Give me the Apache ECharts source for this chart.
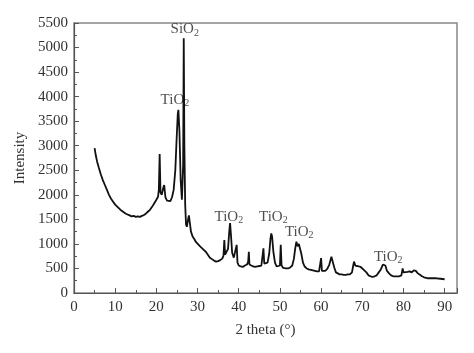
<!DOCTYPE html>
<html>
<head>
<meta charset="utf-8">
<script src="https://cdn.jsdelivr.net/npm/echarts@6/dist/echarts.min.js"></script>
<style>
  html, body { margin: 0; padding: 0; background: #fff; }
  #xrd_chart { width: 474px; height: 353px; }
</style>
</head>
<body>
<div id="xrd_chart"></div>
<script>
// 2 theta positions (deg) and intensities
var theta = [
  5.0, 5.3, 5.6, 6.0, 6.5, 7.0, 7.5, 8.0, 8.5, 9.0, 9.5, 10.0, 10.5, 11.0, 11.5,
  12.0, 12.5, 13.0, 13.5, 14.0, 14.5, 15.0, 15.5, 16.0, 16.5, 17.0, 17.5, 18.0,
  18.5, 19.0, 19.5, 20.0, 20.4, 20.6, 20.8, 21.0, 21.3, 21.7, 21.9, 22.2, 22.6,
  23.0, 23.4, 23.8, 24.2, 24.6, 24.9, 25.2, 25.35, 25.6, 25.9, 26.2, 26.5, 26.65,
  26.8, 27.0, 27.2, 27.4, 27.7, 27.9, 28.1, 28.4, 28.8, 29.2, 29.6, 30.0, 30.5,
  31.0, 31.5, 32.0, 32.5, 33.0, 33.5, 34.0, 34.5, 35.0, 35.5, 36.0, 36.3, 36.5,
  36.7, 37.0, 37.4, 37.7, 37.9, 38.1, 38.4, 38.8, 39.2, 39.5, 39.7, 40.0, 40.5,
  41.0, 41.5, 42.0, 42.3, 42.45, 42.6, 43.0, 43.5, 44.0, 44.5, 45.0, 45.5, 45.8,
  46.0, 46.2, 46.6, 47.0, 47.4, 47.7, 47.9, 48.1, 48.4, 48.8, 49.2, 49.6, 50.0,
  50.2, 50.4, 50.8, 51.5, 52.0, 52.5, 53.0, 53.4, 53.7, 54.0, 54.3, 54.6, 54.9,
  55.2, 55.6, 56.0, 56.5, 57.0, 57.5, 58.0, 58.5, 59.0, 59.5, 59.8, 60.0, 60.2,
  60.6, 61.0, 61.5, 62.0, 62.5, 62.8, 63.2, 63.6, 64.0, 64.5, 65.0, 65.5, 66.0,
  66.5, 67.0, 67.5, 67.8, 68.0, 68.3, 68.8, 69.2, 69.6, 70.0, 70.5, 71.0, 71.5,
  72.0, 72.5, 73.0, 73.5, 74.0, 74.5, 75.0, 75.3, 75.6, 76.0, 76.5, 77.0, 77.5,
  78.0, 78.5, 79.0, 79.5, 79.8, 80.0, 80.4, 81.0, 81.5, 82.0, 82.5, 83.0, 83.5,
  84.0, 84.5, 85.0, 85.5, 86.0, 87.0, 88.0, 89.0, 90.0
];
var intensity = [
  2950, 2800, 2680, 2560, 2420, 2300, 2200, 2100, 2000, 1920, 1860, 1800, 1760, 1720, 1680,
  1650, 1620, 1600, 1580, 1560, 1570, 1550, 1560, 1550, 1570, 1590, 1620, 1660,
  1700, 1760, 1830, 1900, 1960, 2100, 2830, 2050, 2000, 2150, 2200, 1950, 1880,
  1850, 1870, 1950, 2100, 2500, 3100, 3650, 3730, 3300, 2300, 1900, 2600, 5190,
  3000, 1800, 1400, 1350, 1500, 1580, 1450, 1250, 1150, 1100, 1040, 1000, 960,
  920, 880, 840, 780, 720, 690, 660, 640, 650, 670, 700, 760, 1080,
  780, 760, 900, 1250, 1425, 1200, 820, 720, 680, 980, 620, 560, 540,
  530, 560, 580, 640, 840, 580, 560, 540, 530, 540, 550, 560, 600,
  910, 600, 580, 620, 800, 1100, 1215, 1150, 850, 620, 540, 520, 560,
  980, 560, 510, 500, 500, 520, 560, 700, 900, 1045, 950, 1000, 980,
  800, 620, 540, 500, 480, 470, 460, 450, 440, 440, 460, 710, 450,
  440, 450, 490, 580, 740, 700, 520, 420, 400, 380, 380, 370, 370,
  380, 380, 420, 560, 640, 560, 550, 520, 530, 500, 460, 420, 360,
  340, 330, 340, 360, 420, 480, 580, 600, 560, 450, 400, 360, 340,
  340, 340, 340, 360, 500, 420, 380, 430, 440, 420, 460, 450, 400,
  370, 340, 320, 310, 300, 300, 300, 290, 280
];

// peak annotations
var peakNames = ["SiO", "TiO", "TiO", "TiO", "TiO", "TiO"];
var peakX = [26.9, 24.5, 37.6, 48.4, 54.7, 76.3];
var peakY = [5370, 3930, 1555, 1555, 1250, 735];

var chart = echarts.init(document.getElementById("xrd_chart"));
var serif = "Liberation Serif";

var curve = [];
for (var i = 0; i < theta.length; i++) {
  curve.push([theta[i], intensity[i]]);
}
var peaks = [];
for (var j = 0; j < peakX.length; j++) {
  peaks.push({ value: [peakX[j], peakY[j]], name: peakNames[j] });
}

var option = {
  animation: false,
  backgroundColor: "#fff",
  grid: {
    left: 74,
    right: 17,
    top: 23,
    bottom: 60,
    show: true,
    borderColor: "#888",
    borderWidth: 1.5
  },
  xAxis: {
    type: "value",
    min: 0,
    max: 93,
    interval: 10,
    name: "2 theta (°)",
    nameLocation: "middle",
    nameGap: 30,
    nameTextStyle: { fontFamily: serif, fontSize: 15, color: "#333" },
    axisLine: { show: true, lineStyle: { color: "#555", width: 1.2 } },
    axisTick: { show: true, inside: true, length: 5, lineStyle: { color: "#555" } },
    minorTick: { show: true, splitNumber: 2, length: 3, lineStyle: { color: "#555" } },
    splitLine: { show: false },
    axisLabel: {
      fontFamily: serif,
      fontSize: 15,
      color: "#333",
      margin: 7,
      formatter: function (v) { return v > 90 ? "" : String(v); }
    }
  },
  yAxis: {
    type: "value",
    min: 0,
    max: 5500,
    interval: 500,
    name: "Intensity",
    nameLocation: "middle",
    nameGap: 44,
    nameTextStyle: { fontFamily: serif, fontSize: 15, color: "#333" },
    axisLine: { show: true, lineStyle: { color: "#555", width: 1.2 } },
    axisTick: { show: true, inside: true, length: 5, lineStyle: { color: "#555" } },
    minorTick: { show: true, splitNumber: 2, length: 3, lineStyle: { color: "#555" } },
    splitLine: { show: false },
    axisLabel: {
      fontFamily: serif,
      fontSize: 15,
      color: "#333",
      margin: 6,
      formatter: function (v) { return String(v); }
    }
  },
  series: [
    {
      name: "XRD",
      type: "line",
      data: curve,
      symbol: "none",
      lineStyle: { color: "#111", width: 1.8 }
    },
    {
      name: "peaks",
      type: "scatter",
      data: peaks,
      symbolSize: 0,
      silent: true,
      label: {
        show: true,
        position: "inside",
        formatter: function (p) { return "{b|" + p.name + "}{s|2}"; },
        rich: {
          b: { fontFamily: serif, fontSize: 15, color: "#222" },
          s: { fontFamily: serif, fontSize: 10, color: "#222", padding: [7, 0, 0, 0] }
        }
      }
    }
  ]
};
chart.setOption(option);
</script>
</body>
</html>
